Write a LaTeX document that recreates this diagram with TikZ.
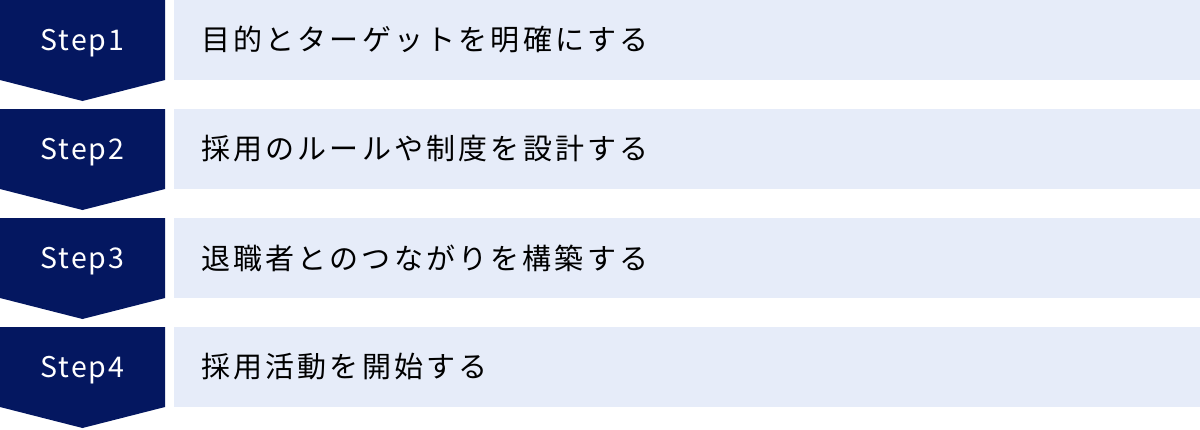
\documentclass[tikz,border=0pt]{standalone}
\usepackage{fontspec}
\setmainfont{Noto Sans CJK JP}
\definecolor{stepnavy}{RGB}{4,23,96}
\definecolor{steplight}{RGB}{230,236,249}
\begin{document}
\begin{tikzpicture}[x=1pt,y=-1pt]
            \tikzset{every node/.style={inner sep=0pt},
                     steplabel/.style={text=white,font=\fontsize{28.5}{28.5}\selectfont\addfontfeature{LetterSpace=7}},
                     steptext/.style={anchor=west,text=black,font=\fontsize{29}{29}\selectfont\addfontfeature{LetterSpace=11}}}
            \useasboundingbox (0,0) rectangle (1200,429);
            % Step1
            \fill [stepnavy] (0,0) -- (165,0) -- (165,80) -- (82.5,101) -- (0,80) -- cycle;
            \node [steplabel] (s1) at (82.5,43) {Step1};
            \fill [steplight] (174,0) rectangle (1200,80);
            \node [steptext] (t1) at (201,40) {目的とターゲットを明確にする};
            % Step2
            \fill [stepnavy] (0,109) -- (165,109) -- (165,189) -- (82.5,210) -- (0,189) -- cycle;
            \node [steplabel] (s2) at (82.5,152) {Step2};
            \fill [steplight] (174,109) rectangle (1200,189);
            \node [steptext] (t2) at (201,149) {採用のルールや制度を設計する};
            % Step3
            \fill [stepnavy] (0,218) -- (165,218) -- (165,298) -- (82.5,319) -- (0,298) -- cycle;
            \node [steplabel] (s3) at (82.5,261) {Step3};
            \fill [steplight] (174,218) rectangle (1200,298);
            \node [steptext] (t3) at (201,258) {退職者とのつながりを構築する};
            % Step4
            \fill [stepnavy] (0,327) -- (165,327) -- (165,407) -- (82.5,428) -- (0,407) -- cycle;
            \node [steplabel] (s4) at (82.5,370) {Step4};
            \fill [steplight] (174,327) rectangle (1200,407);
            \node [steptext] (t4) at (201,367) {採用活動を開始する};
\end{tikzpicture}
\end{document}
